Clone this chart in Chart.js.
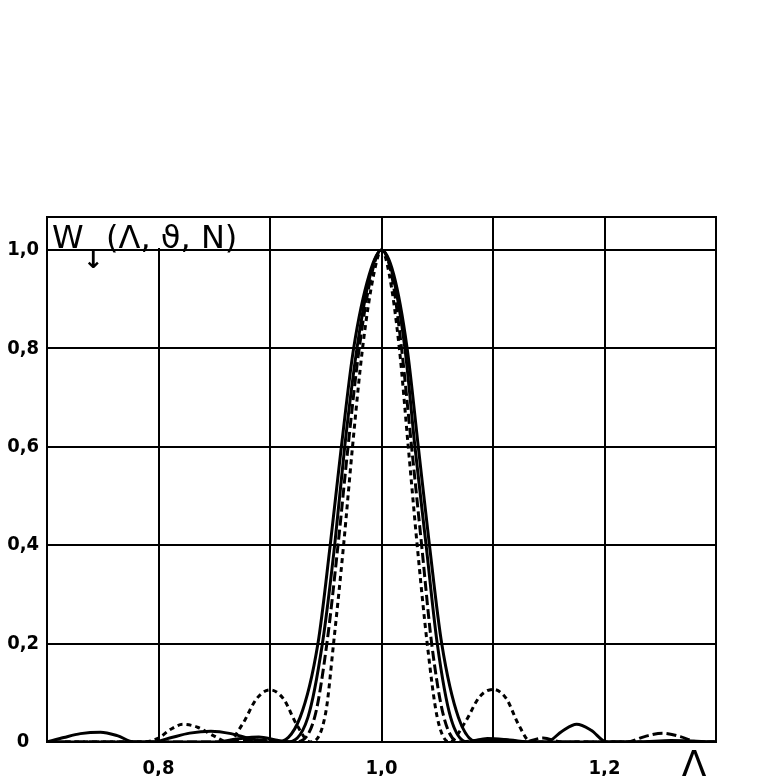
<!DOCTYPE html>
<html>
<head>
<meta charset="utf-8">
<script src="https://cdn.jsdelivr.net/npm/chart.js@4.4.1/dist/chart.umd.min.js"></script>
<style>
  html, body { margin: 0; padding: 0; background: #fff; overflow: hidden; }
  #wrap { width: 759px; height: 800px; }
</style>
</head>
<body>
<div id="wrap"><canvas id="chart" width="759" height="800"></canvas></div>
<script>
// tick labels (comma decimals as in the original)
const xTickValues = [0.8, 1.0, 1.2];
const xTickLabels = ['0,8', '1,0', '1,2'];
const yTickValues = [0, 0.2, 0.4, 0.6, 0.8, 1.0];
const yTickLabels = ['0', '0,2', '0,4', '0,6', '0,8', '1,0'];

// curve 1 - solid, widest
const c1X = [0.700,0.715,0.730,0.748,0.763,0.778,0.795,0.810,0.828,0.847,0.865,0.882,0.900,0.906,0.927,0.943,0.954,0.964,0.975,0.989,1.000,1.011,1.023,1.033,1.043,1.054,1.069,1.086,1.100,1.112,1.125,1.148,1.162,1.175,1.188,1.202,1.230,1.260,1.300];
const c1Y = [0,0.009,0.017,0.020,0.013,0,0,0.008,0.018,0.022,0.017,0.007,0,0,0.05,0.2,0.4,0.6,0.8,0.95,1.0,0.95,0.8,0.6,0.4,0.2,0.05,0,0.005,0.003,0,0,0.022,0.036,0.024,0,0,0.003,0];

// curve 2 - solid
const c2X = [0.700,0.850,0.870,0.890,0.905,0.915,0.934,0.947,0.958,0.967,0.978,0.990,1.000,1.010,1.021,1.030,1.040,1.050,1.062,1.077,1.095,1.115,1.135,1.300];
const c2Y = [0,0,0.006,0.010,0.004,0,0.05,0.2,0.4,0.6,0.8,0.95,1.0,0.95,0.8,0.6,0.4,0.2,0.05,0,0.007,0.004,0,0];

// curve 3 - long dashes
const c3X = [0.700,0.860,0.880,0.900,0.922,0.940,0.951,0.961,0.970,0.980,0.991,1.000,1.009,1.018,1.027,1.036,1.045,1.056,1.070,1.088,1.105,1.128,1.145,1.162,1.220,1.236,1.252,1.268,1.284,1.300];
const c3Y = [0,0,0.004,0.003,0,0.05,0.2,0.4,0.6,0.8,0.95,1.0,0.95,0.8,0.6,0.4,0.2,0.05,0,0.004,0.005,0,0.008,0,0,0.011,0.018,0.011,0,0];

// curve 4 - short dashes, narrowest, big side lobes
const c4X = [0.700,0.785,0.800,0.811,0.822,0.835,0.850,0.862,0.875,0.888,0.900,0.912,0.924,0.936,0.950,0.957,0.966,0.974,0.983,0.993,1.000,1.007,1.016,1.024,1.032,1.041,1.050,1.061,1.075,1.088,1.100,1.112,1.123,1.134,1.300];
const c4Y = [0,0,0.008,0.026,0.036,0.030,0.012,0,0.035,0.088,0.106,0.088,0.035,0,0.06,0.2,0.4,0.6,0.8,0.95,1.0,0.95,0.8,0.6,0.4,0.2,0.05,0,0.040,0.092,0.107,0.088,0.035,0,0];

const tickFont = { family: "'DejaVu Sans Condensed', 'Liberation Sans Narrow', 'DejaVu Sans', sans-serif", size: 20, weight: 'bold' };

function pts(xs, ys) {
    return xs.map((x, i) => ({ x: x, y: ys[i] }));
}

function curve(xs, ys, dash) {
    return {
        data: pts(xs, ys),
        borderColor: '#000',
        borderWidth: 3,
        borderDash: dash,
        pointRadius: 0,
        showLine: true,
        fill: false,
        cubicInterpolationMode: 'monotone'
    };
}

const frame = {
    id: 'frame',
    afterDatasetsDraw(chart) {
        const ctx = chart.ctx;
        const a = chart.chartArea;
        ctx.save();

        // axis title inside the top-left cell, grid hidden behind it
        ctx.fillStyle = '#fff';
        ctx.fillRect(a.left + 1, a.top, 192, 31);
        ctx.strokeStyle = '#000';
        ctx.lineWidth = 2;
        ctx.strokeRect(a.left, a.top, a.right - a.left, a.bottom - a.top);
        ctx.fillStyle = '#000';
        ctx.font = "32px 'DejaVu Sans', sans-serif";
        ctx.textBaseline = 'alphabetic';
        ctx.textAlign = 'left';
        ctx.fillText('W', a.left + 5, a.top + 31);
        ctx.fillText('(\u039B, \u03D1, N)', a.left + 59, a.top + 31);
        ctx.font = "bold 24px 'DejaVu Sans', sans-serif";
        ctx.fillText('\u2193', a.left + 36, a.top + 51);

        // x axis name
        ctx.font = "36px 'DejaVu Sans', sans-serif";
        ctx.textAlign = 'center';
        ctx.fillText('\u039B', a.right - 22, a.bottom + 34);
        ctx.restore();
    }
};

new Chart(document.getElementById('chart'), {
    type: 'scatter',
    data: {
        datasets: [
            curve(c1X, c1Y, []),
            curve(c2X, c2Y, []),
            curve(c3X, c3Y, [10, 4]),
            curve(c4X, c4Y, [5, 4])
        ]
    },
    options: {
        responsive: false,
        animation: false,
        layout: { padding: { top: 217, right: 43, left: 0, bottom: 0 } },
        plugins: { legend: { display: false }, tooltip: { enabled: false } },
        scales: {
            x: {
                type: 'linear',
                min: 0.7,
                max: 1.3,
                afterFit(scale) { scale.height = 58; },
                ticks: {
                    stepSize: 0.1,
                    padding: 15,
                    color: '#000',
                    font: tickFont,
                    maxRotation: 0,
                    autoSkip: false,
                    callback(value) {
                        const i = xTickValues.findIndex(v => Math.abs(v - value) < 1e-6);
                        return i >= 0 ? xTickLabels[i] : '';
                    }
                },
                grid: { color: '#000', lineWidth: 2, drawTicks: false },
                border: { color: '#000', width: 2 }
            },
            y: {
                type: 'linear',
                min: 0,
                max: 1.067,
                afterFit(scale) { scale.width = 47; },
                afterBuildTicks(scale) {
                    scale.ticks = yTickValues.map(v => ({ value: v }));
                },
                ticks: {
                    padding: 8,
                    color: '#000',
                    font: tickFont,
                    crossAlign: 'center',
                    callback(value) {
                        const i = yTickValues.findIndex(v => Math.abs(v - value) < 1e-6);
                        return i >= 0 ? yTickLabels[i] : '';
                    }
                },
                grid: { color: '#000', lineWidth: 2, drawTicks: false },
                border: { color: '#000', width: 2 }
            }
        }
    },
    plugins: [frame]
});
</script>
</body>
</html>
